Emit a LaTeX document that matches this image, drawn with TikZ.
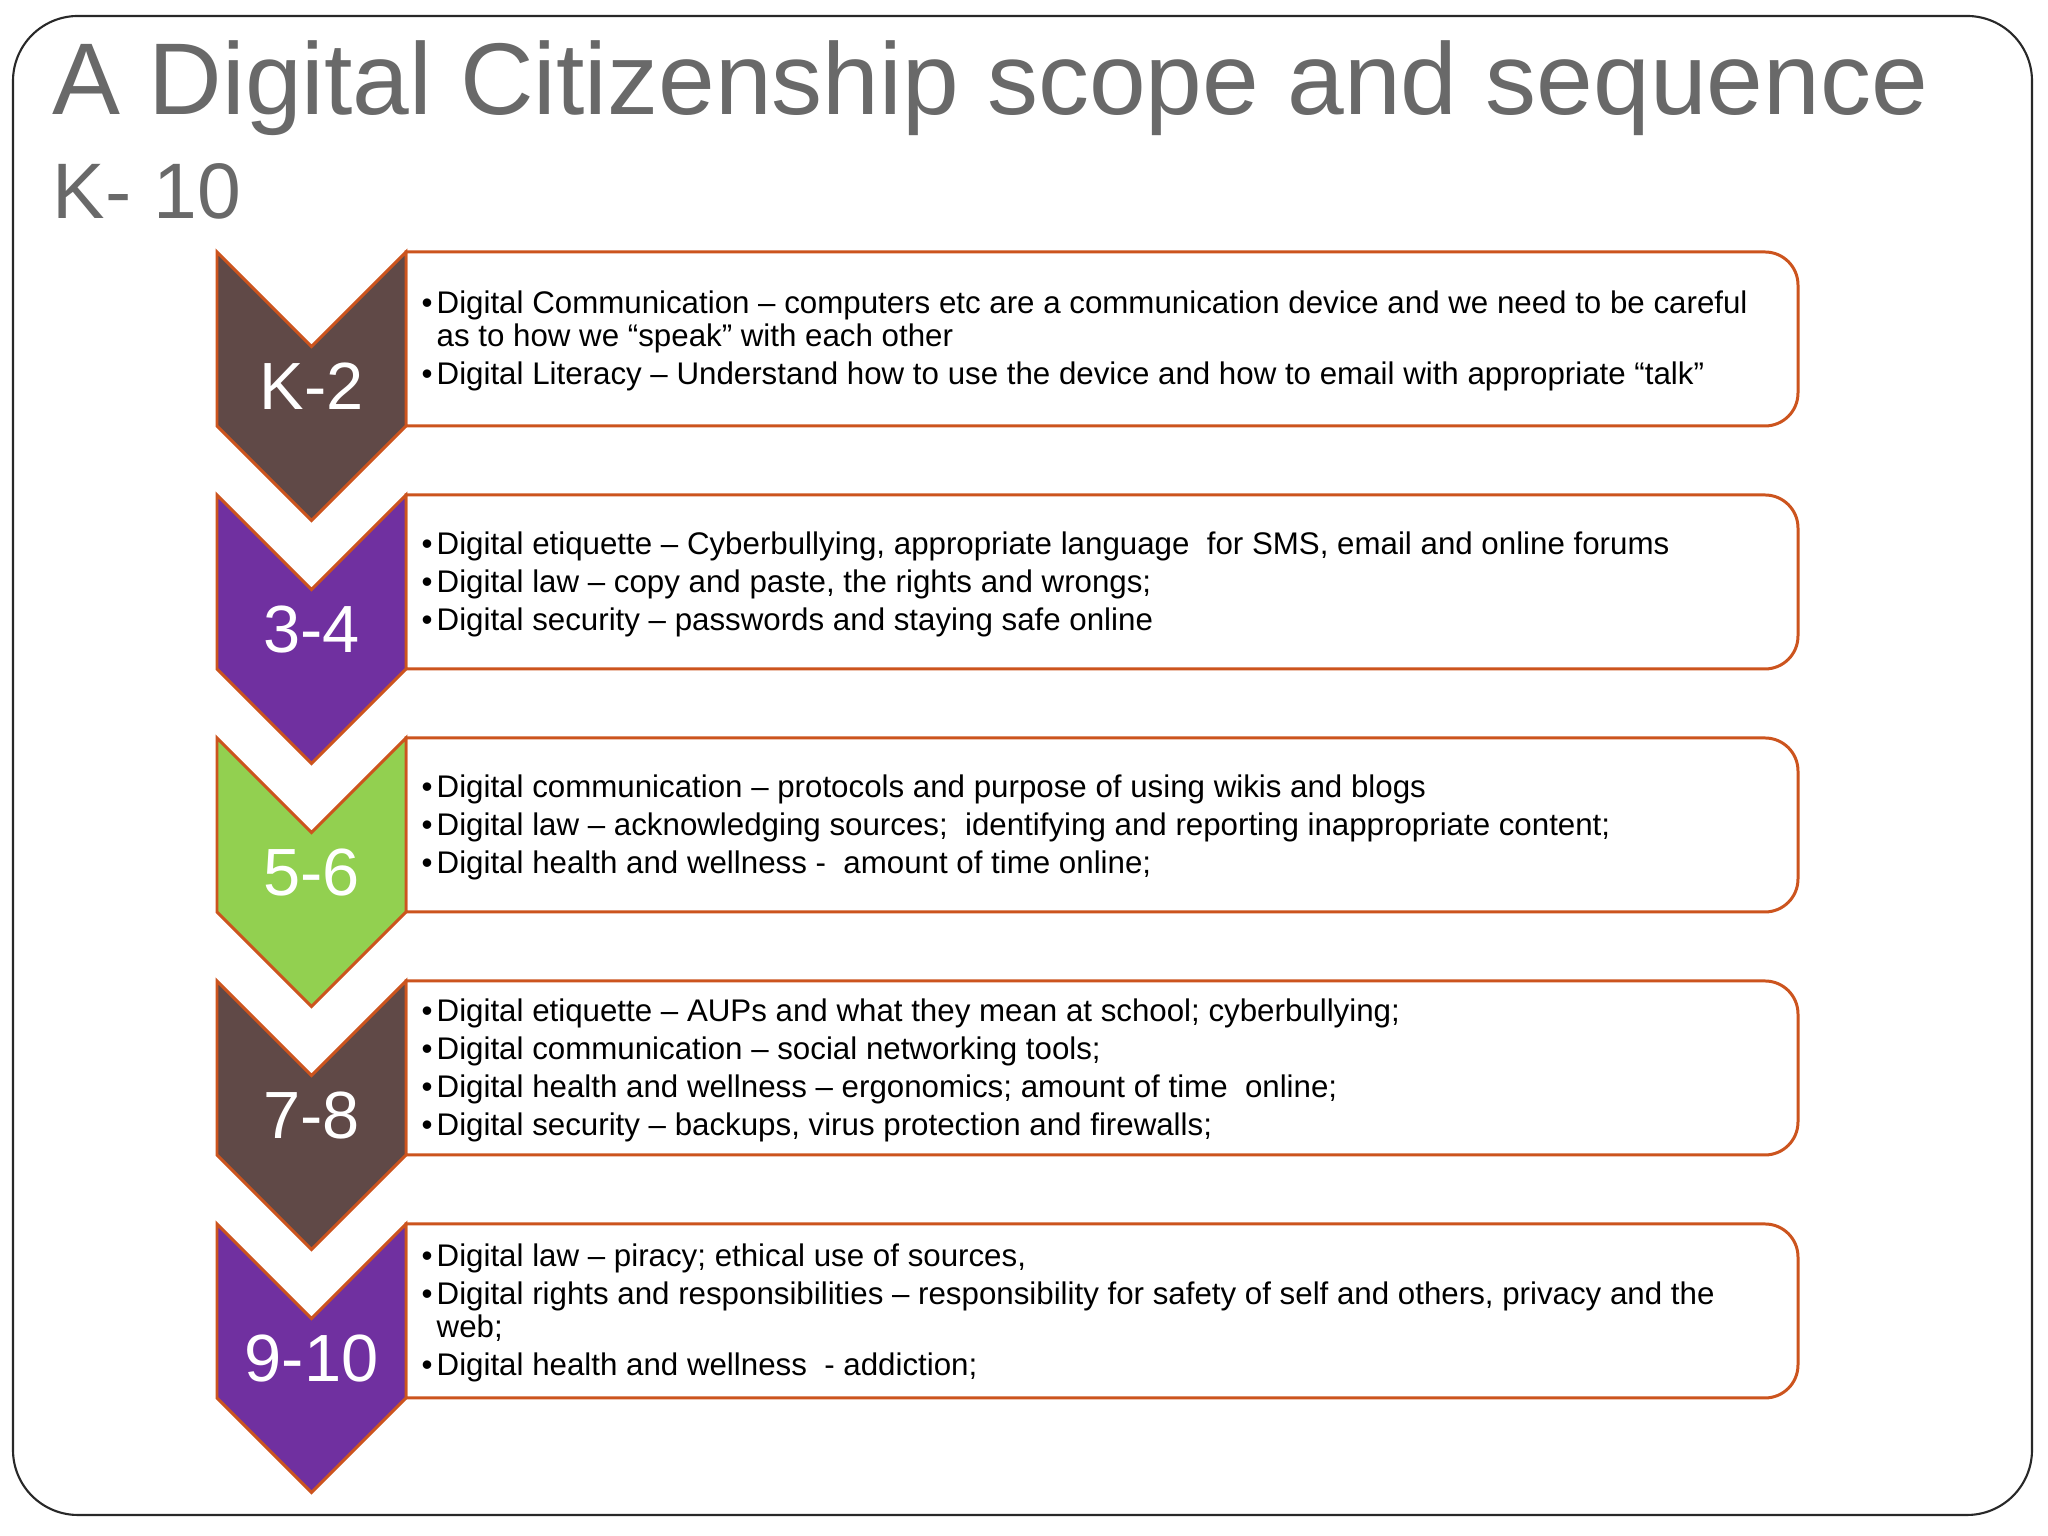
\documentclass[tikz,border=0pt]{standalone}
\usepackage{fontspec}
\setmainfont{Liberation Sans}
\usepackage{tikz}
\usetikzlibrary{positioning}

\definecolor{framec}{RGB}{40,40,40}
\definecolor{titlec}{RGB}{105,105,105}
\definecolor{edgec}{RGB}{204,84,30}
\definecolor{brownc}{RGB}{96,73,71}
\definecolor{purplec}{RGB}{112,48,160}
\definecolor{greenc}{RGB}{146,208,80}

\newcommand{\bul}{\makebox[0.15cm][l]{•}}
\newcommand{\cont}{\hspace*{0.15cm}}

\begin{document}
\begin{tikzpicture}
	\tikzset{chev/.style={draw=edgec,line width=0.85pt,line join=miter}}
	\tikzset{panel/.style={draw=edgec,line width=0.85pt,fill=white}}
	\tikzset{grade/.style={text=white,font=\fontsize{19}{21}\selectfont,inner sep=0pt}}
	\tikzset{items/.style={anchor=west,inner sep=0pt,align=left,font=\fontsize{8.9}{9.4}\selectfont}}
	%\tikzset{items/.style={anchor=west,text width=13.5cm}}
	\useasboundingbox[fill=white] (0,0) rectangle (20.48,15.36);
	\draw[framec,line width=0.6pt,rounded corners=0.65cm] (0.13,0.21) rectangle (20.32,15.20);
	\node[anchor=base west,inner sep=0pt,text=titlec,font=\fontsize{29}{32}\selectfont] (title) at (0.52,14.21) {A Digital Citizenship scope and sequence};
	\node[anchor=base west,inner sep=0pt,text=titlec,font=\fontsize{22.4}{25}\selectfont] (range) at (0.52,13.17) {K- 10};
	\foreach \i/\lab/\col in {0/K-2/brownc,1/3-4/purplec,2/5-6/greenc,3/7-8/brownc,4/9-10/purplec}{
		\pgfmathsetmacro{\t}{12.84-2.43*\i}
		\draw[panel] (4.06,\t) -- (17.65,\t) arc[start angle=90,end angle=0,radius=0.33]
			-- (17.98,\t-1.41) arc[start angle=0,end angle=-90,radius=0.33] -- (4.06,\t-1.74) -- cycle;
		\draw[chev,fill=\col] (2.17,\t) -- (3.115,\t-0.946) -- (4.06,\t) -- (4.06,\t-1.74)
			-- (3.115,\t-2.686) -- (2.17,\t-1.74) -- cycle;
		\node[grade] (g\i) at (3.115,\t-1.343) {\lab};
	}
	\node[items] (t0) at (4.21,11.95) {\bul Digital Communication – computers etc are a communication device and we need to be careful\\
		\cont as to how we “speak” with each other\\[1.4pt]
		\bul Digital Literacy – Understand how to use the device and how to email with appropriate “talk”};
	\node[items] (t1) at (4.21,9.52) {\bul Digital etiquette – Cyberbullying, appropriate language\ \ for SMS, email and online forums\\[1.4pt]
		\bul Digital law – copy and paste, the rights and wrongs;\\[1.4pt]
		\bul Digital security – passwords and staying safe online};
	\node[items] (t2) at (4.21,7.09) {\bul Digital communication – protocols and purpose of using wikis and blogs\\[1.4pt]
		\bul Digital law – acknowledging sources;\ \ identifying and reporting inappropriate content;\\[1.4pt]
		\bul Digital health and wellness -\ \ amount of time online;};
	\node[items] (t3) at (4.21,4.66) {\bul Digital etiquette – AUPs and what they mean at school; cyberbullying;\\[1.4pt]
		\bul Digital communication – social networking tools;\\[1.4pt]
		\bul Digital health and wellness – ergonomics; amount of time\ \ online;\\[1.4pt]
		\bul Digital security – backups, virus protection and firewalls;};
	\node[items] (t4) at (4.21,2.23) {\bul Digital law – piracy; ethical use of sources,\\[1.4pt]
		\bul Digital rights and responsibilities – responsibility for safety of self and others, privacy and the\\
		\cont web;\\[1.4pt]
		\bul Digital health and wellness\ \ - addiction;};
\end{tikzpicture}
\end{document}
